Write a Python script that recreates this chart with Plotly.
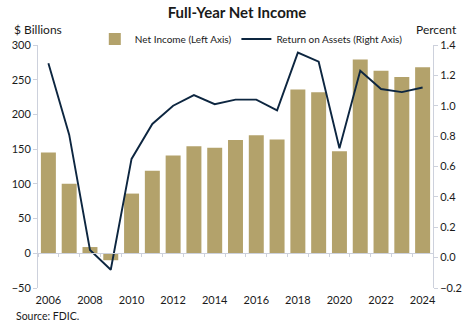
import plotly.graph_objects as go

# Full-year figures for FDIC-insured institutions
years = list(range(2006, 2025))
net_income = [145, 100, 9, -10, 86, 119, 141, 154, 152, 163, 170, 164,
              236, 232, 147, 279, 263, 254, 268]          # $ billions
roa = [1.28, 0.81, 0.05, -0.08, 0.65, 0.88, 1.00, 1.07, 1.01, 1.04, 1.04,
       0.97, 1.35, 1.29, 0.72, 1.23, 1.11, 1.09, 1.12]     # percent

year_ticks = list(range(2006, 2025, 2))
left_ticks = [-50, 0, 50, 100, 150, 200, 250, 300]
right_ticks = [-0.2, 0.0, 0.2, 0.4, 0.6, 0.8, 1.0, 1.2, 1.4]

FONT = "Lato"
BAR = "#B3A26B"
LINE = "#0D2640"
AXIS = "#CDD1DC"
TEXT = "#1a1a1a"

left_range = [-50, 300]
right_range = [-0.2, 1.4]
# category boundaries, used for the small ticks along the zero line
boundaries = [y - 0.5 for y in years] + [years[-1] + 0.5]

fig = go.Figure()
fig.add_trace(go.Bar(
    x=years, y=net_income, name="Net Income (Left Axis)",
    marker=dict(color=BAR, line=dict(width=0)),
    xaxis="x", yaxis="y",
))
fig.add_trace(go.Scatter(
    x=years, y=roa, name="Return on Assets (Right Axis)",
    mode="lines", line=dict(color=LINE, width=1.9),
    xaxis="x2", yaxis="y2",
))

fig.update_layout(
    width=474, height=322,
    margin=dict(l=31, r=31, t=45, b=34),
    paper_bgcolor="white", plot_bgcolor="white",
    font=dict(family=FONT, size=11, color=TEXT),
    bargap=0.28,
    showlegend=True,
    legend=dict(orientation="h", x=0.54, xanchor="center", y=1.025, yanchor="middle",
                font=dict(size=10), itemwidth=30, tracegroupgap=0,
                bgcolor="rgba(0,0,0,0)"),
    title=dict(text="<b>Full-Year Net Income</b>", x=0.5, xanchor="center",
               y=0.96, yanchor="middle", font=dict(family=FONT, size=15, color=TEXT)),
    xaxis=dict(range=[2005.5, 2024.5], tickvals=year_ticks, ticks="",
               showline=False, showgrid=False, zeroline=False,
               tickfont=dict(size=11), ticklabelstandoff=4),
    xaxis2=dict(overlaying="x", matches="x", anchor="free",
                position=(0 - left_range[0]) / (left_range[1] - left_range[0]),
                showline=True, linecolor=AXIS, linewidth=1,
                ticks="outside", tickvals=boundaries, ticklen=3, tickcolor=AXIS,
                showticklabels=False, showgrid=False, zeroline=False),
    yaxis=dict(range=left_range, tickvals=left_ticks, showgrid=False, zeroline=False,
               showline=True, linecolor=AXIS, linewidth=1,
               ticks="outside", ticklen=4, tickcolor=AXIS),
    yaxis2=dict(range=right_range, tickvals=right_ticks, tickformat=".1f",
                overlaying="y", side="right", anchor="x2",
                showgrid=False, zeroline=False,
                showline=True, linecolor=AXIS, linewidth=1,
                ticks="outside", ticklen=4, tickcolor=AXIS),
    annotations=[
        dict(text="$ Billions", xref="paper", yref="paper", x=0, y=1,
             xshift=-26, yshift=16, xanchor="left", yanchor="middle",
             showarrow=False, font=dict(size=12)),
        dict(text="Percent", xref="paper", yref="paper", x=1, y=1,
             xshift=26, yshift=16, xanchor="right", yanchor="middle",
             showarrow=False, font=dict(size=12)),
        dict(text="Source: FDIC.", xref="paper", yref="paper", x=0, y=0,
             xshift=-24, yshift=-28, xanchor="left", yanchor="middle",
             showarrow=False, font=dict(size=10.5)),
    ],
)

fig.write_html("out.html")
